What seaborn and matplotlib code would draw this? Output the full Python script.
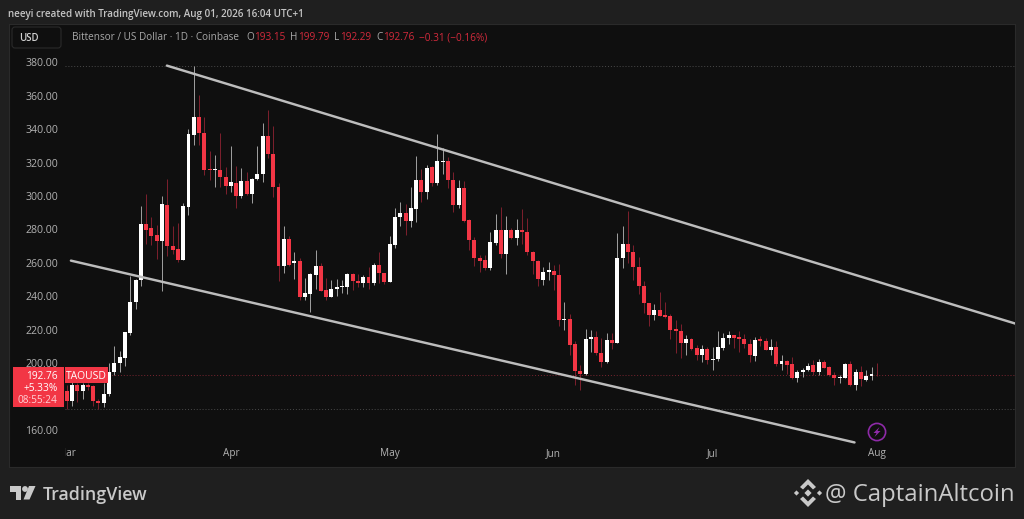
import matplotlib
matplotlib.use('Agg')
import matplotlib.pyplot as plt
import matplotlib.patches as mpatches
import pandas as pd
import seaborn as sns

start_date = '2026-03-01'
opens = [183,177,187,183,187,186,177.4,176,181.6,194.4,
         200,203,217.9,236.3,249.5,283.2,280.8,276.6,273.2,294.4,
         270.2,268.4,261.5,293.4,336.7,347.1,337.7,316.3,315.3,315.7,
         311.6,305.8,308,300.2,309.2,301.4,310.4,313,335.7,325.3,
         305.2,257.9,274.2,259.9,261.3,239.3,241.5,252.9,258.3,243.7,
         239.5,244.5,245.3,245.7,253.5,249.3,247.7,251.7,248.1,258.5,
         254.1,248.7,270.6,287.2,290,284.8,292.4,309.6,302.6,317.2,
         307.6,320.2,321.2,309.8,294.8,305,285.4,273.8,263.1,261.9,
         257.1,272,279.6,265.1,279.6,274.6,279.6,278.2,266.7,261.1,
         249.9,254.3,255.3,252.7,225.5,226.1,211.2,195.4,193.4,214.2,
         215.8,206.2,200.6,214,211.8,262.7,271,266.3,257.7,246.3,
         235.9,228.5,231.7,228.7,227.9,220.4,219.4,211.8,214.4,208.8,
         204.6,208.6,202,202.2,209.2,215.2,216.6,215.4,214.6,211.6,
         204.4,214.4,213.2,207.8,209.6,199.6,201.2,199.6,191,194.4,
         195.6,199,194.8,200.8,197.4,193,191,191.2,199.6,187,
         194.8,190,192,193.15]
closes = [177,187,183,187,185.6,177,176,181.6,194.4,200,
          203.6,218.3,236.5,249.9,283.2,279.8,275.8,273.2,295.4,269.8,
          267.8,261.9,293.8,337.3,347.1,337.7,315.7,315.3,316.3,311.2,
          305.8,308.4,300.2,309.2,301.4,310.4,313.2,335.7,325.3,305.2,
          257.9,274.2,258.9,261.1,239.3,242.1,253.5,258.3,243.3,239.5,
          244.5,245.3,246.3,253.5,248.9,247.7,251.7,248.1,258.5,253.7,
          248.7,271,287.6,289.6,284.8,292.8,309.6,302.6,316.8,307.6,
          320.8,320.8,309.4,294.8,305,285.2,273.4,263.1,261.3,256.7,
          272.4,279.6,265.1,279.6,274.6,279.6,278.2,266.3,260.9,250.1,
          254.3,255.7,252.7,225.5,226.3,211,195.2,193.6,214.4,215.8,
          206.2,200.6,214,212,262.9,271,266.3,257.3,245.9,235.7,
          228.5,231.7,228.3,227.5,219.9,219,211.8,214.4,208.6,204.6,
          208.6,202,202.6,209.4,215.2,216.6,215.2,214.6,211.2,204.6,
          214,213,207.8,209.4,199.6,201.2,199,190.8,194.8,196,
          198.4,194.8,200.8,197.2,192.6,191,191.8,199.6,187,194.8,
          190.2,192.4,193.4,192.76]
highs = [187,189,188,188,188,187,178.5,188,200,210.4,
         207,218.7,251.9,250.3,294.2,301.4,287.2,282.8,300.2,310.4,
         281.8,283.8,295.8,340.1,378,360.7,347.1,326.7,324.7,337.7,
         317.3,330.1,318.1,316.7,314.1,310.8,330.1,343.7,351.7,342.1,
         307.8,282.2,275.8,266.4,262.9,250.9,253.9,267.9,259.9,250.9,
         249.9,250.3,249.9,253.9,253.9,253.5,252.9,257.3,259.9,266.7,
         254.1,275.8,293,296.4,295.4,305.4,324.1,316.2,318.8,318.1,
         337.3,328.7,323.1,314.2,309.8,308.8,286.2,275.4,264.9,264.9,
         278.2,289.2,293.4,288.2,280.8,286.2,292,286.8,267.3,261.5,
         257.3,260.7,258.9,259.3,236.7,229.5,213,199,220.6,220,
         219.2,215,218,218,277.8,282.2,290.8,270.9,263.5,248.9,
         235.9,235.1,242.3,236.3,229.5,225.9,223.5,217,215,210.8,
         211,209.4,209.6,219.4,218,219.4,217,219.4,217.6,214.4,
         215.6,216.4,215.2,214.4,213.4,205,202,203.6,196,197,
         200,201.6,202.4,201.6,198,194.6,193,200,201.2,196.6,
         198,195.6,197.4,199.79]
lows = [172.4,174.4,176.4,178.4,184,174.4,172.6,174,180,193,
        194.4,198.4,216.9,232.3,245.9,271.4,270.8,262.3,242.9,263.8,
        265.4,260.3,261.5,288.8,330.7,330.7,312.7,309.8,305.4,305.4,
        301.4,302.2,292.8,298.8,300.8,295.8,309.8,308.2,322.7,299.4,
        248.9,253.9,257.9,250.3,237.9,237.5,230.3,244.3,242.9,237.5,
        239.5,240.3,241.9,241.3,243.9,245.3,245.3,244.5,246.7,247.9,
        247.1,248.7,269,282.2,276.8,281.2,284.2,296.6,298.2,305.8,
        306.8,313.4,304.6,290.2,292.6,284.4,267.9,257.9,254.3,255.5,
        255.5,270.8,263.1,253.3,274.2,270.8,271.4,264.9,253.5,245.9,
        246.7,249.9,243.9,222,220,205,186.6,183.6,193,206.8,
        205,197.4,200.2,208.4,211.8,257.1,259.9,249.5,241.5,229.9,
        222,225.9,227.9,227.1,214.4,206,203,204.6,207.6,202,
        200.6,199.6,195.6,201.4,208,211.6,208.8,206.8,209.2,200.4,
        201.2,210,207.6,205,198,196,193.4,190.4,188.8,191.8,
        195.2,193,192.8,196.8,192,187,188,191.2,186.4,183.6,
        186.4,189,190,192.29]

upper_dates = ['2026-03-19 22:00', '2026-08-27 07:00']
upper_prices = [378, 223.5]
lower_dates = ['2026-03-01 19:00', '2026-07-27 19:00']
lower_prices = [261.3, 152.5]

# 180.00 sits under the last price tag in the reference, so it is left out
price_ticks = [160, 200, 220, 240, 260, 280, 300, 320, 340, 360, 380]
month_ticks = ['2026-03-01', '2026-04-01', '2026-05-01', '2026-06-01', '2026-07-01', '2026-08-01']
month_labels = ['Mar', 'Apr', 'May', 'Jun', 'Jul', 'Aug']

PAGE = '#1f1f1f'
PANEL = '#0f0f0f'
RED = '#f23645'
TEXT = '#b2b2b2'
FONT = 'Open Sans'

sns.set_theme(style='dark', rc={'figure.facecolor': PAGE, 'axes.facecolor': PANEL})
plt.rcParams['font.family'] = [FONT, 'DejaVu Sans']

df = pd.DataFrame({'date': pd.date_range(start_date, periods=len(opens)),
                   'open': opens, 'high': highs, 'low': lows, 'close': closes})
df['up'] = df['close'] >= df['open']
up = df[df['up']]
down = df[~df['up']]

fig = plt.figure(figsize=(10.24, 5.19), dpi=100)
ax = fig.add_axes([9 / 1024, 1 - 466.5 / 519, 1006 / 1024, 442.5 / 519])

# wicks, then bodies
ax.vlines(up['date'], up['low'], up['high'], color='#9c9c9c', lw=0.72, zorder=2)
ax.vlines(down['date'], down['low'], down['high'], color='#7a1f2c', lw=0.72, zorder=2)
ax.bar(up['date'], up['close'] - up['open'], bottom=up['open'], width=0.75, color='white', lw=0, zorder=3)
ax.bar(down['date'], down['close'] - down['open'], bottom=down['open'], width=0.75, color=RED, lw=0, zorder=3)

# high / low / last price lines
t0 = pd.Timestamp(start_date)
line_left = t0 - pd.Timedelta(days=0.3)
line_right = t0 + pd.Timedelta(days=180)
ax.hlines([max(highs), min(lows)], line_left, line_right, color='#4a4a4a', lw=0.7, ls=(0, (1, 2)), zorder=1)
ax.hlines(closes[-1], line_left, line_right, color='#7a2530', lw=0.7, ls=(0, (1, 2)), zorder=1)

# channel lines
for xs, ys in [(upper_dates, upper_prices), (lower_dates, lower_prices)]:
    sns.lineplot(x=pd.to_datetime(xs), y=ys, ax=ax, color='#bdbdbd', lw=1.75, zorder=4)

ax.set_xlim(t0 - pd.Timedelta(days=10.9), t0 + pd.Timedelta(days=179.1))
ax.set_ylim(138.1, 402.9)
ax.set_yticks(price_ticks)
ax.set_yticklabels([f'{p:.2f}' for p in price_ticks], color=TEXT, fontsize=7.6)
ax.set_xticks(pd.to_datetime(month_ticks))
ax.set_xticklabels(month_labels, color=TEXT, fontsize=7.2)
ax.tick_params(axis='y', length=0, pad=-35.5)
ax.tick_params(axis='x', length=0, pad=-13)
ax.set_xlabel('')
ax.set_ylabel('')
for side in ax.spines.values():
    side.set_color('#2a2a2a')
    side.set_linewidth(0.8)

# overlay in pixel coordinates for the TradingView furniture
ov = fig.add_axes([0, 0, 1, 1], facecolor='none')
ov.set_xlim(0, 1024)
ov.set_ylim(519, 0)
ov.axis('off')

ov.add_patch(mpatches.Rectangle((9.5, 444), 55.5, 20, color=PANEL, lw=0))  # cuts the M of Mar
ov.text(8, 14.5, 'neeyi created with TradingView.com, Aug 01, 2026 16:04 UTC+1', color='#c4c4c4',
        fontsize=7.1, fontweight='semibold', va='center')
ov.add_patch(mpatches.FancyBboxPatch((12, 27), 49, 21, boxstyle='round,pad=0,rounding_size=3',
                                     fc=PANEL, ec='#2a2a2a', lw=0.8))
ov.text(29, 38.5, 'USD', color='#d0d0d0', fontsize=7, ha='center', va='center', fontweight='semibold')
ov.text(72, 37.5, 'Bittensor / US Dollar · 1D · Coinbase', color='#a8a8a8', fontsize=7.2, va='center')
legend_bits = [(246, 'O', '#a8a8a8'), (254, '193.15', '#d32a3c'), (290, 'H', '#a8a8a8'), (298, '199.79', '#d32a3c'),
               (334, 'L', '#a8a8a8'), (340, '192.29', '#d32a3c'), (376, 'C', '#a8a8a8'), (383, '192.76', '#d32a3c'),
               (419, '−0.31 (−0.16%)', '#d32a3c')]
for x, s, c in legend_bits:
    ov.text(x, 37.5, s, color=c, fontsize=7.2, va='center')

# last price tag
ov.add_patch(mpatches.Rectangle((13, 367), 51, 40, color=RED, lw=0, zorder=5))
ov.add_patch(mpatches.Rectangle((65, 367), 43, 16, color=RED, lw=0, zorder=5))
ov.text(57.5, 376.5, '192.76', color='white', fontsize=7.3, ha='right', va='center', zorder=6)
ov.text(57.5, 388.5, '+5.33%', color='white', fontsize=7.3, ha='right', va='center', zorder=6)
ov.text(57.5, 400.5, '08:55:24', color='#ffd0d4', fontsize=7.3, ha='right', va='center', zorder=6)
ov.text(86.5, 376.5, 'TAOUSD', color='white', fontsize=7.5, ha='center', va='center', zorder=6)

# purple bolt badge
ov.add_patch(mpatches.Circle((877, 432), 8.6, fc='none', ec='#8e2aa8', lw=1.2))
ov.add_patch(mpatches.Polygon([(879.5, 427), (873.5, 433), (876.5, 433), (874.5, 437), (880.5, 431),
                               (877.5, 431)], color='#8e2aa8', lw=0))

# TradingView logo
LOGO = '#c9c9c9'
ov.add_patch(mpatches.Polygon([(10, 486), (21, 486), (21, 499.5), (15.5, 499.5), (15.5, 492), (10, 492)],
                              color=LOGO, lw=0))
ov.add_patch(mpatches.Circle((25, 489), 2.9, color=LOGO, lw=0))
ov.add_patch(mpatches.Polygon([(29, 486), (35.5, 486), (29.5, 499.5), (23.5, 499.5)], color=LOGO, lw=0))
ov.text(42.5, 494.5, 'TradingView', color=LOGO, fontsize=12.8, va='center', fontweight='semibold')

# Binance style diamond + handle
cx, cy = 808, 493
def diamond(dx, dy, r):
    return [(cx + dx, cy + dy - r), (cx + dx + r, cy + dy), (cx + dx, cy + dy + r), (cx + dx - r, cy + dy)]
for dx, dy, r in [(0, 0, 3.6), (-11.5, 0, 2.6), (11.5, 0, 2.6)]:
    ov.add_patch(mpatches.Polygon(diamond(dx, dy, r), color=LOGO, lw=0))
ov.add_patch(mpatches.Polygon([(cx, cy - 14), (cx + 8, cy - 6), (cx + 5, cy - 3.5), (cx, cy - 8.5), (cx - 5, cy - 3.5),
                               (cx - 8, cy - 6)], color=LOGO, lw=0))
ov.add_patch(mpatches.Polygon([(cx, cy + 14), (cx + 8, cy + 6), (cx + 5, cy + 3.5), (cx, cy + 8.5), (cx - 5, cy + 3.5),
                               (cx - 8, cy + 6)], color=LOGO, lw=0))
ov.text(1015, 495, '@ CaptainAltcoin', color=LOGO, fontsize=17.2, ha='right', va='center')

fig.savefig('out.png', dpi=100, facecolor=PAGE)
